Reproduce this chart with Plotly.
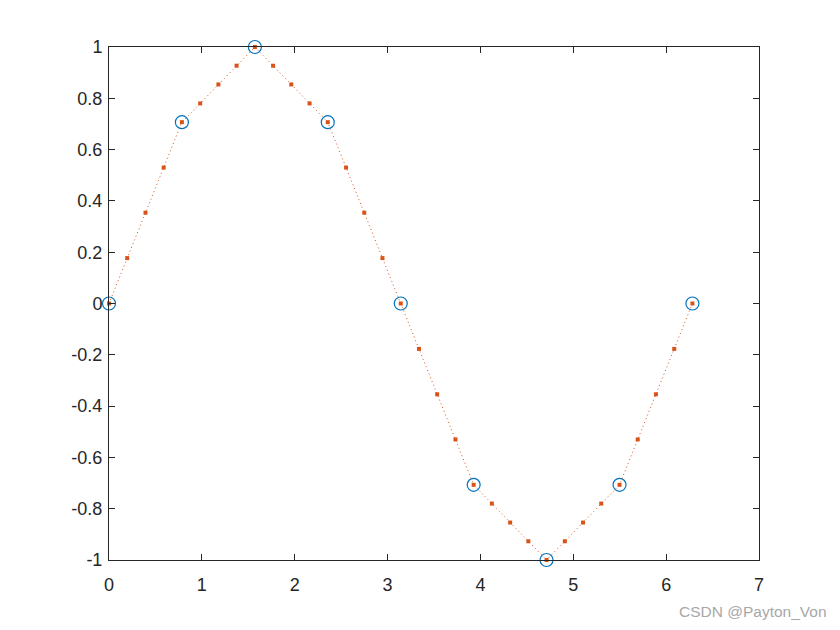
import plotly.graph_objects as go

# Circle markers (coarse samples)
x_coarse = [0, 0.785, 1.571, 2.356, 3.142, 3.927, 4.712, 5.498, 6.283]
y_coarse = [0, 0.707, 1.0, 0.707, 0, -0.707, -1.0, -0.707, 0]

# Fine samples (dotted line with square markers)
x_fine = [0, 0.196, 0.393, 0.589, 0.785, 0.982, 1.178, 1.374, 1.571, 1.767,
          1.963, 2.160, 2.356, 2.553, 2.749, 2.945, 3.142, 3.338, 3.534, 3.731,
          3.927, 4.123, 4.320, 4.516, 4.712, 4.909, 5.105, 5.301, 5.498, 5.694,
          5.890, 6.087, 6.283]
y_fine = [0, 0.177, 0.354, 0.530, 0.707, 0.780, 0.854, 0.927, 1.0, 0.927,
          0.854, 0.780, 0.707, 0.530, 0.354, 0.177, 0, -0.177, -0.354, -0.530,
          -0.707, -0.780, -0.854, -0.927, -1.0, -0.927, -0.854, -0.780, -0.707, -0.530,
          -0.354, -0.177, 0]

x_ticks = [0, 1, 2, 3, 4, 5, 6, 7]
x_tick_text = ["0", "1", "2", "3", "4", "5", "6", "7"]
y_ticks = [-1, -0.8, -0.6, -0.4, -0.2, 0, 0.2, 0.4, 0.6, 0.8, 1]
y_tick_text = ["-1", "-0.8", "-0.6", "-0.4", "-0.2", "0", "0.2", "0.4", "0.6", "0.8", "1"]

FONT = "Liberation Sans, Arial, sans-serif"

fig = go.Figure()
fig.add_trace(go.Scatter(
    x=x_coarse, y=y_coarse, mode="markers",
    marker=dict(symbol="circle-open", size=13, color="#0072BD", line=dict(width=1.2)),
    cliponaxis=False, showlegend=False))
fig.add_trace(go.Scatter(
    x=x_fine, y=y_fine, mode="lines+markers",
    line=dict(color="#D95319", width=1, dash="1px,3px"),
    marker=dict(symbol="square", size=4, color="#D95319"),
    cliponaxis=False, showlegend=False))

axis_common = dict(
    showgrid=False, zeroline=False, showline=True, linecolor="#262626", linewidth=1,
    mirror="ticks", ticks="inside", ticklen=6, tickcolor="#262626", tickwidth=1,
    tickfont=dict(family=FONT, size=18, color="#262626"),
)
fig.update_xaxes(range=[0, 7], tickvals=x_ticks, ticktext=x_tick_text,
                 ticklabelstandoff=8, **axis_common)
fig.update_yaxes(range=[-1, 1], tickvals=y_ticks, ticktext=y_tick_text,
                 ticklabelstandoff=2, **axis_common)

fig.update_layout(
    width=824, height=614,
    margin=dict(l=101, r=73, t=39, b=62),
    paper_bgcolor="white", plot_bgcolor="white",
    annotations=[dict(text="CSDN @Payton_Von", xref="paper", yref="paper",
                      x=1.0, y=0, xshift=70, yshift=-51, xanchor="right", yanchor="middle",
                      showarrow=False,
                      font=dict(family=FONT, size=15.5, color="#a8a8a8"))],
)
fig.write_html("out.html")
